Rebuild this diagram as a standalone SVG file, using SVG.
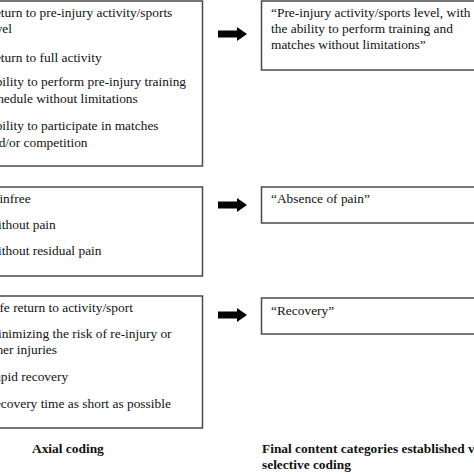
<svg xmlns="http://www.w3.org/2000/svg" width="474" height="474" viewBox="0 0 474 474">
<style>
.box{fill:#fff;stroke:#4a4a4a;stroke-width:1.5}
text{font-family:"Liberation Serif","Times New Roman",serif;font-size:13.4px;fill:#111}
.b{font-weight:bold}
.arr{fill:#000}
</style>
<rect width="474" height="474" fill="#fff"/>
<g id="axial1">
<rect class="box" x="-20" y="1" width="222.5" height="165"/>
<text x="-14" y="17">Return to pre-injury activity/sports</text>
<text x="-14" y="33">level</text>
<text x="-14" y="62">Return to full activity</text>
<text x="-14" y="86">Ability to perform pre-injury training</text>
<text x="-14" y="103">schedule without limitations</text>
<text x="-14" y="130">Ability to participate in matches</text>
<text x="-14" y="147">and/or competition</text>
</g>
<g id="axial2">
<rect class="box" x="-20" y="187" width="222.5" height="89"/>
<text x="-14" y="203">Painfree</text>
<text x="-14" y="229">Without pain</text>
<text x="-14" y="255">Without residual pain</text>
</g>
<g id="axial3">
<rect class="box" x="-20" y="296" width="222.5" height="132"/>
<text x="-14" y="312">Safe return to activity/sport</text>
<text x="-14" y="338">Minimizing the risk of re-injury or</text>
<text x="-14" y="354">other injuries</text>
<text x="-14" y="381">Rapid recovery</text>
<text x="-14" y="408">Recovery time as short as possible</text>
</g>
<g id="final1">
<rect class="box" x="261.5" y="1" width="230" height="69"/>
<text x="271" y="17">“Pre-injury activity/sports level, with</text>
<text x="271" y="33">the ability to perform training and</text>
<text x="271" y="49">matches without limitations”</text>
</g>
<g id="final2">
<rect class="box" x="261.5" y="187" width="230" height="36"/>
<text x="271" y="203">“Absence of pain”</text>
</g>
<g id="final3">
<rect class="box" x="261.5" y="298" width="230" height="36"/>
<text x="271" y="315">“Recovery”</text>
</g>
<g id="connectors">
<path class="arr" d="M218,30.5 H237 V27 L247,34 L237,41 V37.5 H218 Z"/>
<path class="arr" d="M218,201.5 H237 V198 L247,205 L237,212 V208.5 H218 Z"/>
<path class="arr" d="M218,311.5 H237 V308 L247,315 L237,322 V318.5 H218 Z"/>
</g>
<g id="labels">
<text class="b" x="32" y="453">Axial coding</text>
<text class="b" x="262" y="453">Final content categories established via</text>
<text class="b" x="262" y="469">selective coding</text>
</g>
</svg>
